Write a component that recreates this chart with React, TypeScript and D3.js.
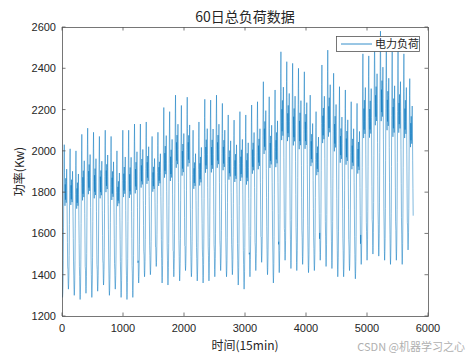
import React from "react";
import * as d3 from "d3";

// Daily peak loads (60 days)
const dailyHigh = [2030,2010,2000,2080,2110,2090,2070,2100,2070,2000,2100,2100,2130,2130,2140,2070,2090,2210,2190,2270,2220,2260,2100,2140,2250,2246,2270,2230,2174,2149,2190,2174,2222,2238,2335,2262,2295,2480,2432,2424,2400,2383,2270,2190,2416,2488,2376,2311,2295,2238,2230,2470,2460,2540,2580,2520,2480,2500,2470,2350];
// Daily trough loads (60 days)
const dailyLow = [1290,1330,1300,1280,1310,1290,1320,1350,1300,1330,1290,1280,1290,1360,1390,1400,1440,1360,1350,1390,1370,1420,1390,1370,1360,1370,1390,1420,1390,1400,1350,1330,1390,1420,1460,1400,1360,1410,1470,1430,1420,1450,1410,1420,1470,1440,1430,1390,1390,1420,1380,1450,1470,1500,1490,1470,1450,1470,1450,1520];
// Typical hourly shape of a day (0 = trough, 1 = peak)
const hourShape = [0.14,0.04,0.0,0.03,0.1,0.24,0.46,0.7,0.9,1.0,0.82,0.68,0.6,0.74,0.64,0.78,0.68,0.62,0.76,0.84,0.7,0.52,0.36,0.2];

const xTicks = [0,1000,2000,3000,4000,5000,6000];
const yTicks = [1200,1400,1600,1800,2000,2200,2400,2600];

const W = 474, H = 355;
const L = 62, R = 428, T = 27, B = 316;

export default function App() {
  const x = d3.scaleLinear().domain([0, 6000]).range([L, R]);
  const y = d3.scaleLinear().domain([1200, 2600]).range([B, T]);
  const pts: [number, number][] = [];
  dailyHigh.forEach((hi, d) => {
    const lo = dailyLow[d];
    hourShape.forEach((p, h) => {
      pts.push([d * 96 + h * 4 + 1, lo + p * (hi - lo)]);
    });
  });
  const line = d3.line<[number, number]>().x(p => x(p[0])).y(p => y(p[1]));
  const tl = 3.5;
  const font = "'Liberation Sans', Arial, Helvetica, sans-serif";
  const cjk = "'Noto Sans CJK SC', sans-serif";
  return (
    <svg width={W} height={H} style={{ position: "absolute", left: 0, top: 0, background: "#fff" }}>
      <rect x={0} y={0} width={W} height={H} fill="#fff" />
      <defs>
        <clipPath id="plot"><rect x={L} y={T} width={R - L} height={B - T} /></clipPath>
      </defs>
      <path d={line(pts) || ""} fill="none" stroke="#0072BD" strokeWidth={0.5} clipPath="url(#plot)" />
      <rect x={L + 0.5} y={T + 0.5} width={R - L} height={B - T} fill="none" stroke="#555" strokeWidth={0.8} />
      {xTicks.map(t => (
        <g key={"x" + t}>
          <line x1={x(t)} x2={x(t)} y1={B} y2={B - tl} stroke="#555" strokeWidth={0.8} />
          <line x1={x(t)} x2={x(t)} y1={T} y2={T + tl} stroke="#555" strokeWidth={0.8} />
          <text x={x(t)} y={332} textAnchor="middle" fontSize={11} fontFamily={font} fill="#262626">{t}</text>
        </g>
      ))}
      {yTicks.map(t => (
        <g key={"y" + t}>
          <line x1={L} x2={L + tl} y1={y(t)} y2={y(t)} stroke="#555" strokeWidth={0.8} />
          <line x1={R} x2={R - tl} y1={y(t)} y2={y(t)} stroke="#555" strokeWidth={0.8} />
          <text x={56} y={y(t) + 4} textAnchor="end" fontSize={11} fontFamily={font} fill="#262626">{t}</text>
        </g>
      ))}
      <text x={(L + R) / 2} y={22} textAnchor="middle" fontSize={14} fontFamily={cjk} fill="#262626">60日总负荷数据</text>
      <text x={(L + R) / 2} y={350} textAnchor="middle" fontSize={12} fontFamily={cjk} fill="#262626">时间(15min)</text>
      <text transform={`translate(24,${(T + B) / 2}) rotate(-90)`} textAnchor="middle" fontSize={12} fontFamily={cjk} fill="#262626">功率(Kw)</text>
      <rect x={336.5} y={36.5} width={83} height={15} fill="#fff" stroke="#555" strokeWidth={0.8} />
      <line x1={341} x2={372} y1={44} y2={44} stroke="#0072BD" strokeWidth={0.8} />
      <text x={375} y={48} fontSize={11} fontFamily={cjk} fill="#262626">电力负荷</text>
      <text x={465} y={351} textAnchor="end" fontSize={11} fontFamily={cjk} fill="#b0b0b0">CSDN @机器学习之心</text>
    </svg>
  );
}
